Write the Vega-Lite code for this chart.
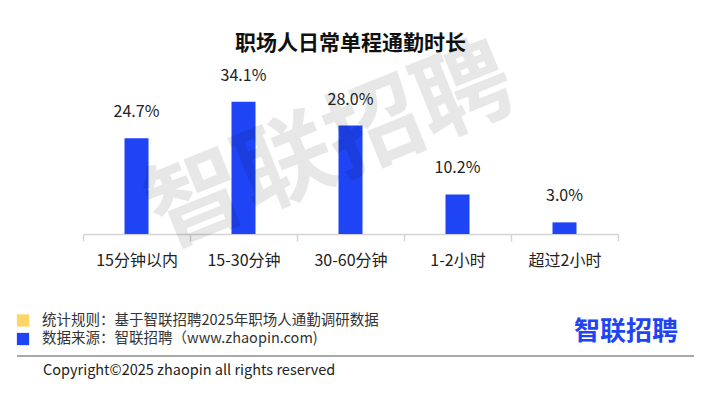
{
  "$schema": "https://vega.github.io/schema/vega-lite/v6.json",
  "background": "white",
  "padding": {"left": 16, "right": 15, "top": 32, "bottom": 14},
  "bounds": "flush",
  "spacing": 0,
  "config": {"view": {"stroke": null}, "font": "Noto Sans CJK SC"},
  "vconcat": [
    {
      "width": 535,
      "height": 155,
      "title": {"text": "职场人日常单程通勤时长", "fontSize": 21, "fontWeight": "bold", "color": "#111111", "anchor": "middle", "offset": -22},
      "data": {"values": [
        {"category": "15分钟以内", "share": 0.247},
        {"category": "15-30分钟", "share": 0.341},
        {"category": "30-60分钟", "share": 0.280},
        {"category": "1-2小时", "share": 0.102},
        {"category": "超过2小时", "share": 0.030}
      ]},
      "layer": [
        {
          "mark": {"type": "bar", "width": 24, "color": "#1E44F5"},
          "encoding": {
            "x": {"field": "category", "type": "nominal", "sort": null,
              "scale": {"domain": ["15分钟以内", "15-30分钟", "30-60分钟", "1-2小时", "超过2小时"], "paddingInner": 0, "paddingOuter": 0},
              "axis": {"title": null, "labelAngle": 0, "domainColor": "#d4d4d4", "domainWidth": 1.5, "tickColor": "#d4d4d4", "tickWidth": 1.5, "tickSize": 7, "tickBand": "extent", "labelFontSize": 16, "labelColor": "#222222", "labelPadding": 11}},
            "y": {"field": "share", "type": "quantitative", "scale": {"domain": [0, 0.4]}, "axis": null}
          }
        },
        {
          "mark": {"type": "text", "dy": -21, "baseline": "alphabetic", "fontSize": 16, "color": "#222222"},
          "encoding": {
            "x": {"field": "category", "type": "nominal", "sort": null},
            "y": {"field": "share", "type": "quantitative"},
            "text": {"field": "share", "format": ".1%"}
          }
        },
        {
          "data": {"values": [{"wm": "智联招聘"}]},
          "mark": {"type": "text", "angle": -22, "fontSize": 96, "fontWeight": "bold", "color": "#000000", "opacity": 0.09, "dx": -21, "baseline": "middle", "align": "center"},
          "encoding": {
            "x": {"datum": "30-60分钟", "type": "nominal"},
            "y": {"datum": 0.24, "type": "quantitative"},
            "text": {"field": "wm"}
          }
        }
      ]
    },
    {
      "width": 535,
      "height": 150,
      "layer": [
        {
          "data": {"values": [{"label": "统计规则：基于智联招聘2025年职场人通勤调研数据"}]},
          "mark": {"type": "text", "align": "left", "baseline": "middle", "fontSize": 14.5, "color": "#333333"},
          "encoding": {
            "x": {"datum": 41, "type": "quantitative", "scale": {"domain": [82, 617], "range": [0, 535], "nice": false, "zero": false}, "axis": null},
            "y": {"datum": 320, "type": "quantitative", "scale": {"domain": [233, 383], "range": [0, 150], "nice": false, "zero": false}, "axis": null},
            "text": {"field": "label"}
          }
        },
        {
          "data": {"values": [{"label": "数据来源：智联招聘（www.zhaopin.com)"}]},
          "mark": {"type": "text", "align": "left", "baseline": "middle", "fontSize": 14.5, "color": "#333333"},
          "encoding": {
            "x": {"datum": 41, "type": "quantitative"},
            "y": {"datum": 338, "type": "quantitative"},
            "text": {"field": "label"}
          }
        },
        {
          "data": {"values": [{"label": "统计规则"}]},
          "mark": {"type": "point", "shape": "square", "filled": true, "size": 150, "opacity": 1, "color": "#FFD666", "strokeWidth": 0},
          "encoding": {
            "x": {"datum": 22, "type": "quantitative"},
            "y": {"datum": 319.5, "type": "quantitative"}
          }
        },
        {
          "data": {"values": [{"label": "数据来源"}]},
          "mark": {"type": "point", "shape": "square", "filled": true, "size": 150, "opacity": 1, "color": "#1E44F5", "strokeWidth": 0},
          "encoding": {
            "x": {"datum": 22, "type": "quantitative"},
            "y": {"datum": 338, "type": "quantitative"}
          }
        },
        {
          "data": {"values": [{"label": "智联招聘"}]},
          "mark": {"type": "text", "align": "left", "baseline": "middle", "fontSize": 26, "fontWeight": "bold", "color": "#1E44F5"},
          "encoding": {
            "x": {"datum": 573, "type": "quantitative"},
            "y": {"datum": 331, "type": "quantitative"},
            "text": {"field": "label"}
          }
        },
        {
          "data": {"values": [{"label": "divider"}]},
          "mark": {"type": "rule", "color": "#8c8c8c", "strokeWidth": 1.5},
          "encoding": {
            "x": {"datum": 16, "type": "quantitative"},
            "x2": {"datum": 693},
            "y": {"datum": 355, "type": "quantitative"}
          }
        },
        {
          "data": {"values": [{"label": "Copyright©2025 zhaopin all rights reserved"}]},
          "mark": {"type": "text", "align": "left", "baseline": "middle", "fontSize": 14.5, "color": "#222222"},
          "encoding": {
            "x": {"datum": 42, "type": "quantitative"},
            "y": {"datum": 370, "type": "quantitative"},
            "text": {"field": "label"}
          }
        }
      ]
    }
  ]
}
